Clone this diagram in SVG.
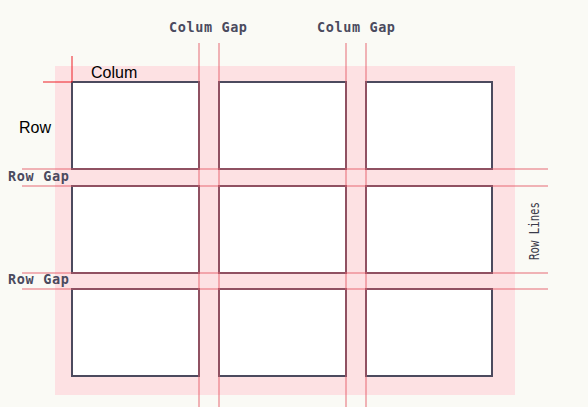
<svg xmlns="http://www.w3.org/2000/svg" width="588" height="407" viewBox="0 0 588 407">
  <defs>
    <style>
      .cell { fill: #ffffff; stroke: #4c4a5e; stroke-width: 2; }
      .gap { stroke: #e25a68; stroke-opacity: 0.6; stroke-width: 1.5; fill: none; }
      .mark { stroke: #ee1c24; stroke-width: 1; fill: none; }
      .lbl { font-family: "DejaVu Sans Mono", "Liberation Mono", monospace; font-weight: bold; font-size: 13.5px; fill: #4a4a5e; }
      .lbl2 { font-family: "DejaVu Sans Mono", "Liberation Mono", monospace; font-size: 14px; fill: #3a3a4a; }
      .sans { font-family: "Liberation Sans", Arial, sans-serif; font-size: 16px; fill: #000000; }
    </style>
  </defs>
  <rect x="0" y="0" width="588" height="407" fill="#fafaf5"/>
  <rect id="grid-area" x="55" y="66" width="460" height="329" fill="#fde1e3"/>

  <g id="cell-1-1"><rect class="cell" x="72" y="82" width="127" height="87"/></g>
  <g id="cell-1-2"><rect class="cell" x="219" y="82" width="127" height="87"/></g>
  <g id="cell-1-3"><rect class="cell" x="366" y="82" width="126" height="87"/></g>
  <g id="cell-2-1"><rect class="cell" x="72" y="186" width="127" height="87"/></g>
  <g id="cell-2-2"><rect class="cell" x="219" y="186" width="127" height="87"/></g>
  <g id="cell-2-3"><rect class="cell" x="366" y="186" width="126" height="87"/></g>
  <g id="cell-3-1"><rect class="cell" x="72" y="289" width="127" height="87"/></g>
  <g id="cell-3-2"><rect class="cell" x="219" y="289" width="127" height="87"/></g>
  <g id="cell-3-3"><rect class="cell" x="366" y="289" width="126" height="87"/></g>

  <g id="connectors">
    <line class="gap" x1="199" y1="43" x2="199" y2="407"/>
    <line class="gap" x1="219" y1="43" x2="219" y2="407"/>
    <line class="gap" x1="346" y1="43" x2="346" y2="407"/>
    <line class="gap" x1="366" y1="43" x2="366" y2="407"/>
    <line class="gap" x1="22" y1="169" x2="548" y2="169"/>
    <line class="gap" x1="22" y1="186" x2="548" y2="186"/>
    <line class="gap" x1="22" y1="273" x2="548" y2="273"/>
    <line class="gap" x1="22" y1="289" x2="548" y2="289"/>
    <line class="mark" x1="72" y1="56" x2="72" y2="82"/>
    <line class="mark" x1="43" y1="82" x2="72" y2="82"/>
  </g>

  <g id="labels">
    <text class="lbl" x="169" y="32" textLength="78" lengthAdjust="spacing">Colum Gap</text>
    <text class="lbl" x="317" y="32" textLength="78" lengthAdjust="spacing">Colum Gap</text>
    <text class="lbl" x="8" y="181" textLength="61" lengthAdjust="spacing">Row Gap</text>
    <text class="lbl" x="8" y="284" textLength="61" lengthAdjust="spacing">Row Gap</text>
    <text class="lbl2" transform="translate(539,260) rotate(-90)" textLength="58" lengthAdjust="spacingAndGlyphs">Row Lines</text>
    <text class="sans" x="91" y="78">Colum</text>
    <text class="sans" x="19" y="133">Row</text>
  </g>
</svg>
